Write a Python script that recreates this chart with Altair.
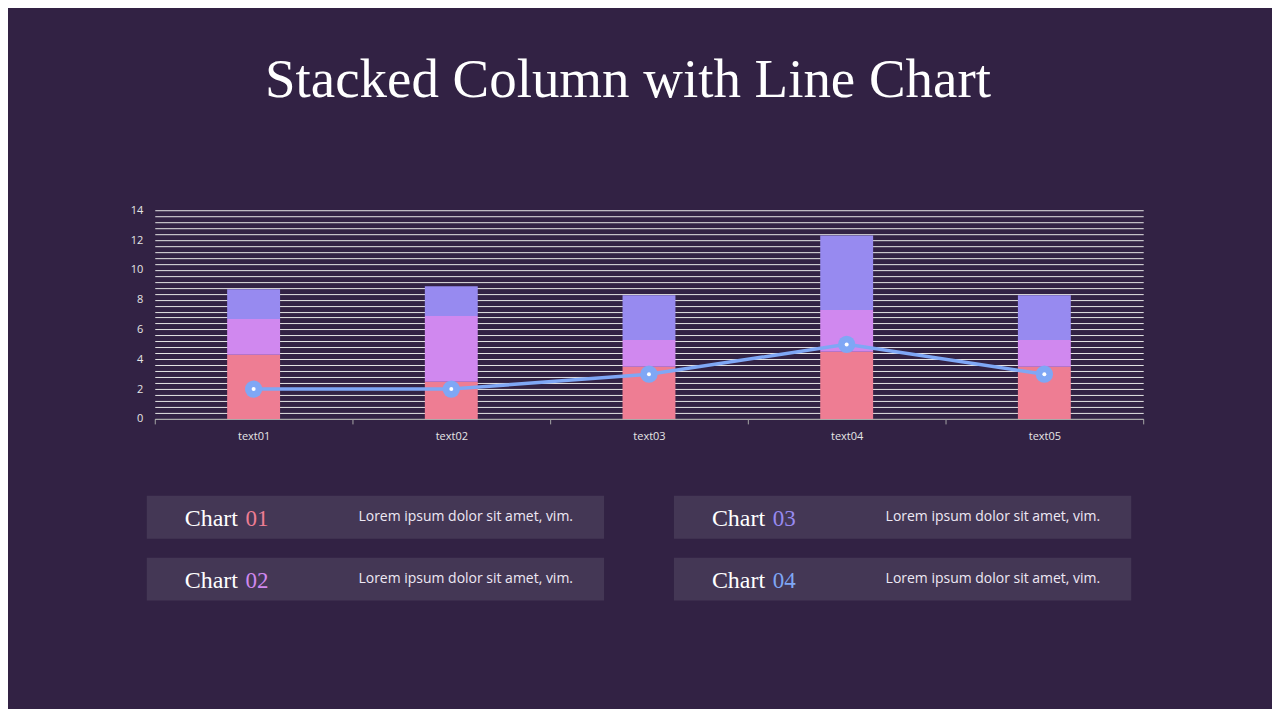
import altair as alt
import pandas as pd

# ---------------- data ----------------
categories = ["text01", "text02", "text03", "text04", "text05"]
series_names = ["Series 1", "Series 2", "Series 3"]
series1 = [4.3, 2.5, 3.5, 4.5, 3.5]
series2 = [2.4, 4.4, 1.8, 2.8, 1.8]
series3 = [2.0, 2.0, 3.0, 5.0, 3.0]
line_values = [2.0, 2.0, 3.0, 5.0, 3.0]

panel_numbers = ["01", "02", "03", "04"]
panel_cols = [0, 0, 1, 1]
panel_rows = [0, 1, 0, 1]
panel_word = "Chart"
panel_text = "Lorem ipsum dolor sit amet, vim."

# axis gridlines every 0.4, labels every 2
grid_values = [round(i * 0.4, 1) for i in range(36)]

# ---------------- styles ----------------
BG = "#322244"
BOX = "#443755"
bar_colors = ["#EE7D93", "#D088EF", "#978AF0"]
line_color = "#7FA7F5"
num_colors = ["#EE7D93", "#D088EF", "#978AF0", "#7FA7F5"]
label_color = "#E6E6E6"

bar_df = pd.DataFrame(
    [
        {"cat": c, "series": s, "idx": i, "value": v}
        for i, (s, vals) in enumerate(zip(series_names, [series1, series2, series3]))
        for c, v in zip(categories, vals)
    ]
)
line_df = pd.DataFrame({"cat": categories, "value": line_values})

x_scale = alt.Scale(paddingInner=0, paddingOuter=0)
y_scale = alt.Scale(domain=[0, 14], nice=False)

x_axis = alt.Axis(
    labelAngle=0, tickBand="extent", domainColor="#A6A6A6", tickColor="#A6A6A6",
    tickSize=5, labelColor=label_color, labelFontSize=11, labelPadding=7,
    labelFont="Open Sans", grid=False,
)
y_axis = alt.Axis(
    values=grid_values, tickCount=50,
    labelExpr="abs(datum.value/2 - round(datum.value/2)) < 0.001 ? format(datum.value, 'd') : ''",
    grid=True, gridColor="#E6E6E6", gridWidth=1, ticks=False, domain=False,
    labelColor=label_color, labelFontSize=11, labelFont="Open Sans", labelPadding=12,
    labelOverlap=False,
)

bars = alt.Chart(bar_df).mark_bar(size=53).encode(
    x=alt.X("cat:N", sort=categories, title=None, scale=x_scale, axis=x_axis),
    y=alt.Y("value:Q", stack="zero", scale=y_scale, title=None, axis=y_axis),
    color=alt.Color("series:N", scale=alt.Scale(domain=series_names, range=bar_colors), legend=None),
    order=alt.Order("idx:Q", sort="ascending"),
)

line_base = alt.Chart(line_df).encode(
    x=alt.X("cat:N", sort=categories),
    y=alt.Y("value:Q"),
)
line = line_base.mark_line(color=line_color, strokeWidth=3.5)
pts = line_base.mark_point(filled=True, shape="circle", size=300, opacity=1, color=line_color)
dots = line_base.mark_point(filled=True, shape="circle", size=16, opacity=1, color="white")

main = alt.layer(bars, line, pts, dots).properties(width=990, height=209)

# ---------------- info panels ----------------
panel_df = pd.DataFrame(
    {
        "col": panel_cols,
        "row": panel_rows,
        "word": [panel_word] * 4,
        "num": panel_numbers,
        "numcolor": num_colors,
        "desc": [panel_text] * 4,
    }
)
px_scale = alt.Scale(range=[-8, 978], paddingInner=70 / 528, paddingOuter=0)
py_scale = alt.Scale(paddingInner=19 / 62, paddingOuter=0)

rects = alt.Chart(panel_df).mark_rect(color=BOX).encode(
    x=alt.X("col:O", scale=px_scale, axis=None),
    y=alt.Y("row:O", scale=py_scale, axis=None),
)
tx = alt.X("col:O", bandPosition=0, axis=None)
ty = alt.Y("row:O", bandPosition=0.5, axis=None)
word_txt = alt.Chart(panel_df).mark_text(
    align="left", baseline="middle", dx=38, dy=2, font="Liberation Serif",
    fontSize=24, color="white",
).encode(x=tx, y=ty, text="word:N")
num_txt = alt.Chart(panel_df).mark_text(
    align="left", baseline="middle", dx=99, dy=2, font="Liberation Serif", fontSize=23,
).encode(x=tx, y=ty, text="num:N", color=alt.Color("numcolor:N", scale=None))
desc_txt = alt.Chart(panel_df).mark_text(
    align="left", baseline="middle", dx=212, dy=0, font="Open Sans", fontSize=14,
    color="#EEE8F4",
).encode(x=tx, y=ty, text="desc:N")

panel = alt.layer(rects, word_txt, num_txt, desc_txt).properties(width=986, height=105)

chart = alt.vconcat(
    main, panel,
    spacing=77,
    bounds="flush",
    title=alt.TitleParams(
        text="Stacked Column with Line Chart", font="Liberation Serif", fontSize=55,
        color="white", fontWeight="normal", anchor="middle", offset=95, dx=-9,
    ),
    padding={"left": 122, "top": 45, "right": 128, "bottom": 108},
    background=BG,
).configure_view(stroke=None)

chart.save("out.html", embed_options={"renderer": "svg", "actions": False})
